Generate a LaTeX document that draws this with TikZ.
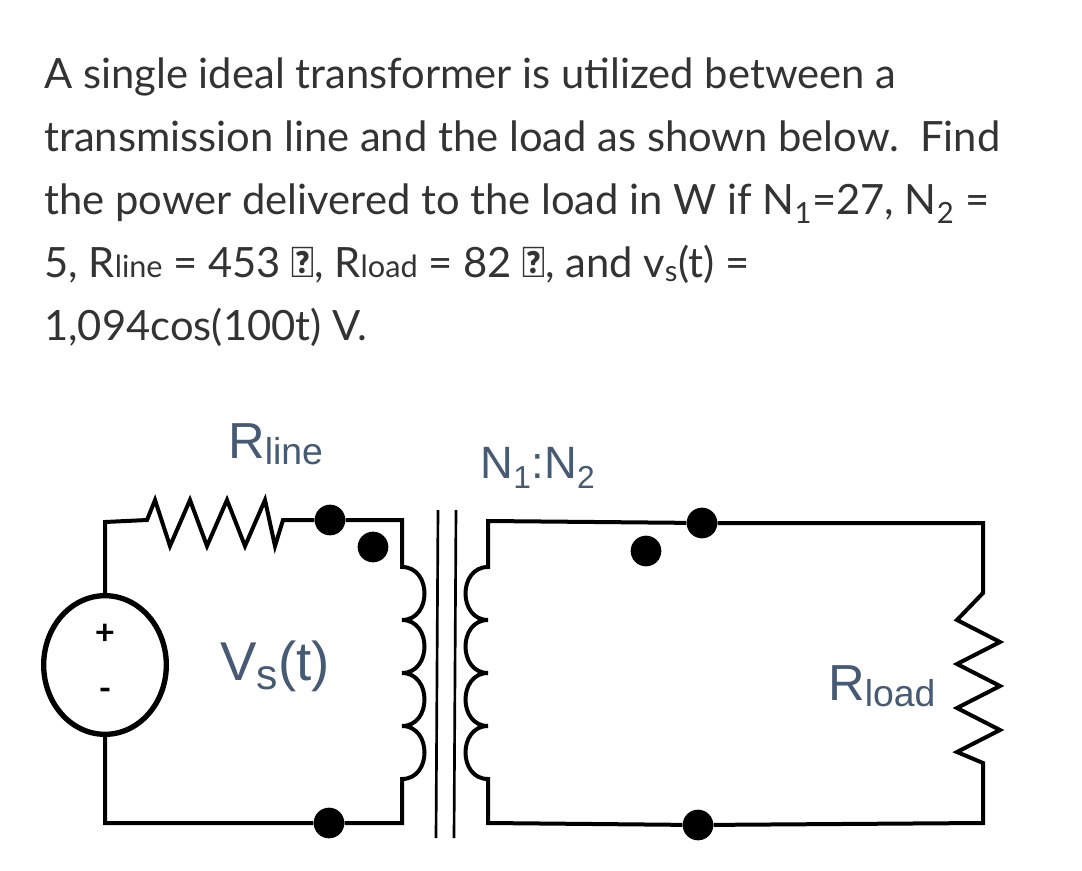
\documentclass[tikz,border=0pt]{standalone}
\usetikzlibrary{shapes.geometric}
\usepackage{fontspec}
\setmainfont{Lato}
\newfontfamily\arial{Liberation Sans}
\begin{document}
\begin{tikzpicture}[x=0.75pt,y=-0.75pt,
  txt/.style={anchor=base west,inner sep=0,text=black!80,font=\fontsize{31.3}{34}\selectfont},
  lab/.style={inner sep=0,text={rgb,255:red,70;green,90;blue,115},font=\arial\fontsize{38}{40}\selectfont},
  wire/.style={line width=3pt,line join=miter},
  blob/.style={circle,fill=black,inner sep=0,minimum width=21pt,minimum height=23pt}]
\useasboundingbox (0,0) rectangle (1082,871);
\node[txt] (l1) at (44,88) {A single ideal transformer is utilized between a};
\node[txt] (l2) at (44,151) {transmission line and the load as shown below.\ \ Find};
\node[txt] (l3) at (44,214) {the power delivered to the load in W if N\textsubscript{1}=27, N\textsubscript{2} =};
\node[txt] (l4) at (44,277) {5, R{\fontsize{23}{23}\selectfont line} = 453 $\mathbf{\Omega}$, R{\fontsize{23}{23}\selectfont load} = 82 $\mathbf{\Omega}$, and v\textsubscript{s}(t) =};
\node[txt] (l5) at (44,340) {1,094cos(100t) V.};
% labels
\node[lab,anchor=base west] (rl) at (228,458) {R\raisebox{-5pt}{\fontsize{28}{28}\selectfont line}};
\node[lab,anchor=base] (nn) at (538,478) {\fontsize{34}{34}\selectfont N\textsubscript{1}:N\textsubscript{2}};
\node[lab,anchor=base west] (vs) at (220,680) {\fontsize{41}{41}\selectfont V\raisebox{-7pt}{\fontsize{32}{32}\selectfont s}(t)};
\node[lab,anchor=base west] (rd) at (828,700) {R\raisebox{-5pt}{\fontsize{28}{28}\selectfont load}};
% source
\node[draw,ellipse,line width=4pt,minimum width=92pt,minimum height=104pt,inner sep=0] (src) at (105,665) {};
\node[font=\bfseries\fontsize{26}{26}\selectfont,inner sep=0] (pl) at (105,634) {+};
\node[font=\bfseries\fontsize{26}{26}\selectfont,inner sep=0] (mi) at (105,694) {-};
% primary
\coordinate (a1) at (105,522);
\coordinate (r1) at (147,520);
\coordinate (r2) at (283,520);
\node[blob] (d1) at (330,520) {};
\node[blob] (d2) at (329,823) {};
\node[blob] (p1) at (373,547) {};
\draw[wire] (src.north) -- (a1) -- (r1) -- (155,500) -- (170,546) -- (190,500) -- (207,546) -- (227,500) -- (245,546) -- (265,500) -- (275,546) -- (r2) -- (d1) -- (402,520) -- (402,567)
  .. controls (432,567) and (432,620) .. (402,620)
  .. controls (432,620) and (432,673) .. (402,673)
  .. controls (432,673) and (432,726) .. (402,726)
  .. controls (432,726) and (432,779) .. (402,779)
  -- (402,823) -- (d2) -- (105,823) -- (src.south);
% core
\draw[line width=2pt] (438,510) -- (436,838);
\draw[line width=2pt] (456,510) -- (454,838);
% secondary
\node[blob] (d3) at (702,523) {};
\node[blob] (d4) at (698,825) {};
\node[blob] (p2) at (646,551) {};
\draw[wire] (d3) -- (488,521) -- (488,567)
  .. controls (458,567) and (458,620) .. (488,620)
  .. controls (458,620) and (458,673) .. (488,673)
  .. controls (458,673) and (458,726) .. (488,726)
  .. controls (458,726) and (458,779) .. (488,779)
  -- (488,823) -- (d4) -- (983,823) -- (983,763) -- (957,752) -- (1000,730) -- (957,708) -- (1000,686) -- (957,664) -- (1000,642) -- (957,620) -- (983,593) -- (983,523) -- (d3);
\end{tikzpicture}
\end{document}
